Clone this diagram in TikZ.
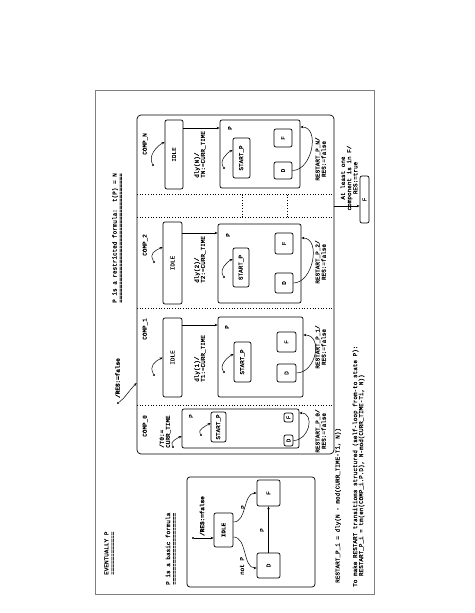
\documentclass[tikz,border=0pt]{standalone}
\usepackage{fontspec}
\newfontfamily\monof[FakeBold=0.5]{Liberation Mono}
\usetikzlibrary{arrows.meta,calc}
\begin{document}
\begin{tikzpicture}
\useasboundingbox (0,0) rectangle (474pt,613pt);
\begin{scope}[rotate=90, transform shape, x=1pt, y=-1pt,
  txt/.style={font=\monof\fontsize{6}{6.2}\selectfont, inner sep=0pt, align=center},
  btxt/.style={font=\monof\bfseries\fontsize{6}{6.2}\selectfont},
  ltxt/.style={txt, align=left, anchor=west},
  sbox/.style={draw, rounded corners=2pt, line width=0.7pt, inner sep=0pt, txt},
  arr/.style={-{Stealth[length=3pt,width=2.5pt]}, line width=0.5pt},
  sep/.style={dotted, line width=0.7pt},
  sdot/.style={circle, fill, inner sep=0pt, minimum size=2.4pt}]

% outer frame
\draw[gray, line width=0.8pt] (19,95) rectangle (523,374);

% titles
\node[ltxt] (tEv) at (38,109.5) {EVENTUALLY P\\============};
\node[ltxt] (tBasic) at (28,171) {P is a basic formula\\====================};
\node[ltxt] (tRes) at (310,117.5) {P is a restricted formula:\ \ t(P) = N\\====================================};

% ---------- basic formula ----------
\node[sbox, rounded corners=3pt, minimum width=110pt, minimum height=128pt] (B) at (81,251) {};
\node[sbox, btxt, minimum width=34pt, minimum height=19pt] (IB) at (83,223.5) {IDLE};
\node[sbox, minimum width=26pt, minimum height=23pt] (FB) at (120,268.5) {F};
\node[sbox, minimum width=25pt, minimum height=23pt] (DB) at (47.5,268.5) {D};
\node[sdot] (dB) at (75,193) {};
\draw[arr] (dB) -- ([xshift=-8pt]IB.north);
\node[ltxt, btxt] (lB) at (77,202) {/RES:=false};
\draw[arr] ([xshift=8pt]IB.south) .. controls +(0,14) and +(0,-14) .. (FB.north);
\node[txt] (lBP) at (106,243) {P};
\draw[arr] ([xshift=-7pt]IB.south) .. controls +(0,14) and +(0,-14) .. ([xshift=-2.5pt]DB.north);
\node[txt] (lBnP) at (47,242) {not P};
\draw[arr] (DB.east) -- (FB.west);
\node[txt] (lBDF) at (83,262) {P};

% ---------- restricted formula ----------
\node[draw, rounded corners=4pt, line width=0.7pt, minimum width=339pt, minimum height=197pt, inner sep=0pt] (Big) at (328.5,235.5) {};
\node[sdot] (dR) at (210,118) {};
\draw[arr] (dR) .. controls +(5,7) and +(-8,-8) .. ([xshift=-98.5pt]Big.north);
\node[ltxt, btxt] (lR) at (215,117.5) {/RES:=false};

\draw[sep] (208,137) -- (208,334);
\draw[sep] (305,137) -- (305,334);
\draw[sep] (396,137) -- (396,334);
\draw[sep] (419,137) -- (419,334);
\draw[sep] (396,242) -- (419,242);
\draw[sep] (396,287) -- (419,287);

% COMP_0
\node[txt] (c0) at (187,145) {COMP\_0};
\node[ltxt] (l0) at (165,165) {/T0:=\\CURR\_TIME};
\node[sbox, minimum width=39pt, minimum height=117pt] (P0) at (184.5,240.5) {};
\node[txt] (p0) at (197,191) {P};
\node[sdot] (d0) at (166,173) {};
\draw[arr] (d0) .. controls +(5,-3) and +(-3,-6) .. ([xshift=-7.5pt]P0.north);
\node[sbox, minimum width=30pt, minimum height=15pt] (S0) at (186,218.5) {START\_P};
\node[sdot] (s0) at (178,201) {};
\draw[arr] (s0) .. controls +(5,-4) and +(-3,-5) .. ([xshift=4pt]S0.north);
\node[sbox, minimum width=9pt, minimum height=9pt] (F0) at (195.5,288.5) {F};
\node[sbox, minimum width=11pt, minimum height=9pt] (D0) at (172.5,288.5) {D};
\draw[arr] (D0.south) .. controls +(0,16) and +(0,16) .. ([xshift=15.5pt]P0.south);
\node[txt] (r0) at (182,320.5) {RESTART\_P\_0/\\RES:=false};

% COMP_1
\node[txt] (c1) at (284,145) {COMP\_1};
\node[sbox, minimum width=79pt, minimum height=19pt] (I1) at (255.5,172.5) {IDLE};
\node[sdot] (d1) at (238,154) {};
\draw[arr] (d1) .. controls +(9,-5) and +(-4,-8) .. (I1.north);
\node[sbox, minimum width=80pt, minimum height=85pt] (P1) at (256,260.5) {};
\node[txt] (p1) at (286,227) {P};
\draw[arr] ([xshift=32.5pt]I1.south) -- ([xshift=32pt]P1.north);
\node[ltxt] (l1) at (231,200) {dly(1)/\\T1:=CURR\_TIME};
\node[sbox, minimum width=40pt, minimum height=17pt] (S1) at (251,242.5) {START\_P};
\node[sdot] (s1) at (241,224) {};
\draw[arr] (s1) .. controls +(7,-5) and +(-3,-6) .. ([xshift=8pt]S1.north);
\node[sbox, minimum width=20pt, minimum height=19pt] (F1) at (271,286.5) {F};
\node[sbox, minimum width=18pt, minimum height=19pt] (D1) at (240,286.5) {D};
\draw[arr] (D1.south) .. controls +(0,20) and +(0,20) .. ([xshift=22pt]P1.south);
\node[txt] (r1) at (266,320.5) {RESTART\_P\_1/\\RES:=false};

% COMP_2
\node[txt] (c2) at (368,145) {COMP\_2};
\node[sbox, minimum width=82pt, minimum height=19pt] (I2) at (350,172.5) {IDLE};
\node[sdot] (d2) at (351,154) {};
\draw[arr] (d2) .. controls +(9,-5) and +(-4,-8) .. ([xshift=16pt]I2.north);
\node[sbox, minimum width=79pt, minimum height=83pt] (P2) at (349.5,259.5) {};
\node[txt] (p2) at (378,228) {P};
\draw[arr] ([xshift=30pt]I2.south) -- ([xshift=30.5pt]P2.north);
\node[ltxt] (l2) at (330,200) {dly(2)/\\T2:=CURR\_TIME};
\node[sbox, minimum width=39pt, minimum height=16pt] (S2) at (345.5,241) {START\_P};
\node[sdot] (s2) at (336,224) {};
\draw[arr] (s2) .. controls +(7,-5) and +(-3,-6) .. ([xshift=8.5pt]S2.north);
\node[sbox, minimum width=21pt, minimum height=18pt] (F2) at (369.5,284) {F};
\node[sbox, minimum width=20pt, minimum height=18pt] (D2) at (330,284) {D};
\draw[arr] (D2.south) .. controls +(0,20) and +(0,20) .. ([xshift=25.5pt]P2.south);
\node[txt] (r2) at (351,320.5) {RESTART\_P\_2/\\RES:=false};

% COMP_N
\node[txt] (cN) at (469,145) {COMP\_N};
\node[sbox, minimum width=69pt, minimum height=18pt] (IN) at (458.5,174) {IDLE};
\node[sdot] (dN) at (448,153) {};
\draw[arr] (dN) .. controls +(9,-5) and +(-4,-8) .. ([xshift=12.5pt]IN.north);
\node[sbox, minimum width=68pt, minimum height=80pt] (PN) at (459,260) {};
\node[txt] (pN) at (485,230) {P};
\draw[arr] ([xshift=26.5pt]IN.south) -- ([xshift=26pt]PN.north);
\node[ltxt] (lN) at (435,200) {dly(N)/\\TN:=CURR\_TIME};
\node[sbox, minimum width=40pt, minimum height=17pt] (SN) at (455,241.5) {START\_P};
\node[sdot] (sN) at (445,224) {};
\draw[arr] (sN) .. controls +(7,-5) and +(-3,-6) .. ([xshift=8pt]SN.north);
\node[sbox, minimum width=18pt, minimum height=18pt] (FN) at (475,283) {F};
\node[sbox, minimum width=17pt, minimum height=18pt] (DN) at (442.5,283) {D};
\draw[arr] (DN.south) .. controls +(0,20) and +(0,20) .. ([xshift=27pt]PN.south);
\node[txt] (rN) at (454,320.5) {RESTART\_P\_N/\\RES:=false};

% final F
\node[txt] (al) at (435,349) {At least one\\component is in F/\\RES:=true};
\node[sbox, minimum width=47pt, minimum height=9pt] (FR) at (413.5,364.5) {F};
\draw[arr] ([xshift=78.5pt]Big.south) -- ([xshift=-6.5pt]FR.north);

% bottom notes
\node[ltxt] (b1) at (30,338) {RESTART\_P\_i = dly(N - mod(CURR\_TIME-Ti, N))};
\node[ltxt] (b2) at (26,355.5) {To make RESTART transitions structured (self-loop from-to state P):};
\node[ltxt] (b3) at (26,361.5) {\ \ \ RESTART\_P\_i = tm(en(COMP\_i.P.D), N-mod(CURR\_TIME-Ti, N))};
\end{scope}
\end{tikzpicture}
\end{document}
